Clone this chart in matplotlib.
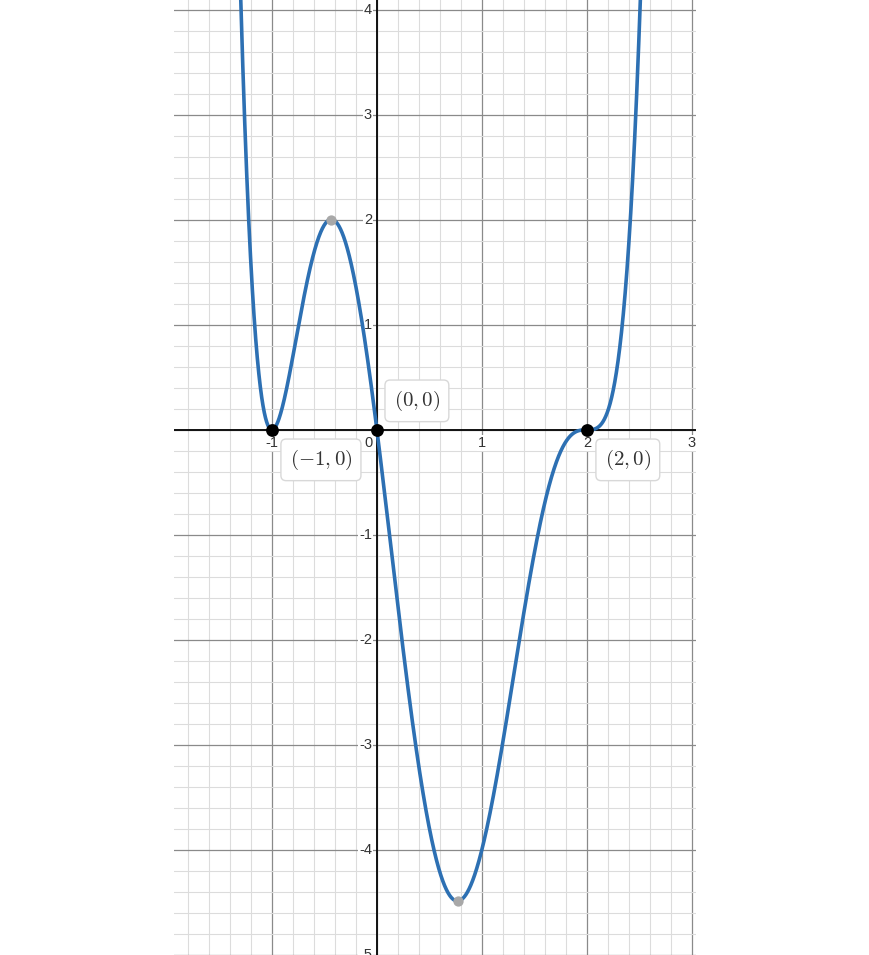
import numpy as np
import matplotlib
matplotlib.use("Agg")
import matplotlib.pyplot as plt

plt.rcParams["mathtext.fontset"] = "cm"

# roots of the graphed polynomial and their multiplicities (read from the labelled points)
roots = [-1, 0, 2]
multiplicity = [2, 1, 3]

# labelled points
pt_x = [-1, 0, 2]
pt_y = [0, 0, 0]
pt_labels = [r"$(-1,0)$", r"$(0,0)$", r"$(2,0)$"]
label_offsets = [(49, -30), (40, 29), (41, -30)]  # pixels

# grey extremum points
ext_x = [-0.434, 0.768]
ext_y = [2.0, -4.49]

x_ticks = [-1, 0, 1, 2, 3]
y_ticks = [-5, -4, -3, -2, -1, 1, 2, 3, 4]

xlim = (-1.933, 3.04)
ylim = (-5.003, 4.095)

x = np.linspace(xlim[0], xlim[1], 4000)
y = np.ones_like(x)
for r, m in zip(roots, multiplicity):
    y = y * (x - r) ** m
y = np.where(np.abs(y) > 20, np.nan, y)

fig = plt.figure(figsize=(8.7, 9.55), dpi=100)
ax = fig.add_axes([174 / 870, 0, (696 - 174) / 870, 1])
ax.set_xlim(*xlim)
ax.set_ylim(*ylim)

ax.set_xticks(np.arange(-1, 4, 1))
ax.set_xticks(np.arange(-1.8, 3.05, 0.2), minor=True)
ax.set_yticks(np.arange(-5, 5, 1))
ax.set_yticks(np.arange(-5, 4.1, 0.2), minor=True)
ax.grid(which="major", color="#8a8a8a", lw=0.9, zorder=0)
ax.grid(which="minor", color="#dcdcdc", lw=0.8, zorder=0)
ax.tick_params(which="both", length=0, labelbottom=False, labelleft=False)
for s in ax.spines.values():
    s.set_visible(False)
ax.set_axisbelow(True)

ax.axhline(0, color="#111111", lw=1.4, zorder=1)
ax.axvline(0, color="#111111", lw=1.4, zorder=1)

# axis numbers
lab_kw = dict(fontsize=10.5, family="Liberation Sans", color="#333333", zorder=2,
              bbox=dict(fc="white", ec="none", pad=0.6))
for t in x_ticks:
    dx = -8 if t == 0 else 0
    ax.annotate(str(t), (t, 0), xytext=(dx, -6), textcoords="offset pixels",
                ha="center", va="top", **lab_kw)
for t in y_ticks:
    ax.annotate(str(t), (0, t), xytext=(-5, 0), textcoords="offset pixels",
                ha="right", va="center", **lab_kw)

ax.plot(x, y, color="#2d70b3", lw=2.6, zorder=3, solid_capstyle="round")
ax.scatter(ext_x, ext_y, s=55, color="#a8a8a8", zorder=4, linewidths=0)
ax.scatter(pt_x, pt_y, s=85, color="black", zorder=5, linewidths=0)

for px, py, lab, off in zip(pt_x, pt_y, pt_labels, label_offsets):
    ax.annotate(lab, (px, py), xytext=off, textcoords="offset pixels",
                ha="center", va="center", fontsize=15, color="#333333", zorder=6,
                bbox=dict(boxstyle="round,pad=0.42,rounding_size=0.25",
                          fc="white", ec="#d8d8d8", lw=1))

fig.savefig("out.png", dpi=100)
